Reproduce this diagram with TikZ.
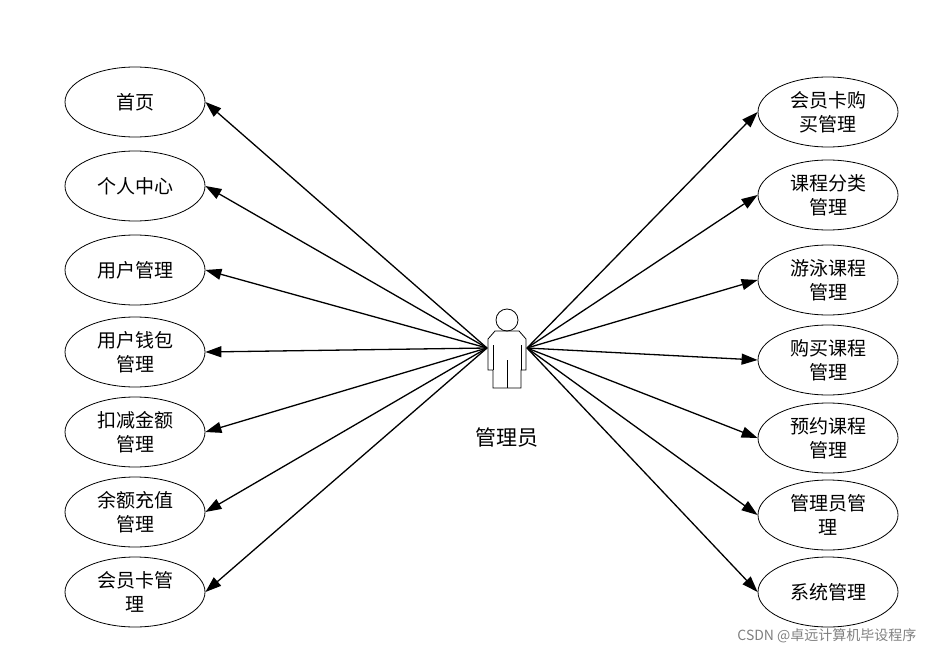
\documentclass[tikz,border=0pt]{standalone}
\usepackage{fontspec}
\newfontfamily\cjk{Noto Sans CJK SC}
\usetikzlibrary{shapes.geometric, arrows.meta}
\tikzstyle{usecase} = [ellipse, minimum width=140pt, minimum height=70pt, draw=black, thick, align=center, font=\cjk\fontsize{19pt}{24pt}\selectfont, inner sep=0pt]
\tikzstyle{arrow} = [line width=1.3pt,-{Triangle[length=16pt,width=11pt]}]

\begin{document}
\begin{tikzpicture}[x=1pt,y=-1pt]
        \useasboundingbox (0,0) rectangle (933,655);
        % left use cases
        \node(l1) [usecase] at (135,102) {首页};
        \node(l2) [usecase] at (135,186) {个人中心};
        \node(l3) [usecase] at (135,270) {用户管理};
        \node(l4) [usecase] at (135,352) {用户钱包\\管理};
        \node(l5) [usecase] at (135,432) {扣减金额\\管理};
        \node(l6) [usecase] at (135,512) {余额充值\\管理};
        \node(l7) [usecase] at (135,592) {会员卡管\\理};
        % right use cases
        \node(r1) [usecase] at (828,112) {会员卡购\\买管理};
        \node(r2) [usecase] at (828,195) {课程分类\\管理};
        \node(r3) [usecase] at (828,280) {游泳课程\\管理};
        \node(r4) [usecase] at (828,360) {购买课程\\管理};
        \node(r5) [usecase] at (828,438) {预约课程\\管理};
        \node(r6) [usecase] at (828,515) {管理员管\\理};
        \node(r7) [usecase] at (828,592) {系统管理};

        % actor
        \draw[thick] (507,320) circle (11);
        \draw[thick] (495,331) -- (519,331) -- (526,339) -- (526,370) -- (521,370) -- (521,388)
            -- (493,388) -- (493,370) -- (488,370) -- (488,339) -- cycle;
        \draw[thick] (493,345) -- (493,370) (521,345) -- (521,370) (507,360) -- (507,388);
        \coordinate(actL) at (487,348);
        \coordinate(actR) at (527,348);
        \node(actor) [font=\cjk\fontsize{21pt}{24pt}\selectfont] at (507,438) {管理员};

        \foreach \n in {l1,l2,l3,l4,l5,l6,l7}
            \draw[arrow] (actL) -- (\n.east);
        \foreach \n in {r1,r2,r3,r4,r5,r6,r7}
            \draw[arrow] (actR) -- (\n.west);

        \node(mark) [font=\cjk\fontsize{14pt}{16pt}\selectfont, text=gray, anchor=east] at (920,636) {CSDN @卓远计算机毕设程序};
    \end{tikzpicture}
\end{document}
